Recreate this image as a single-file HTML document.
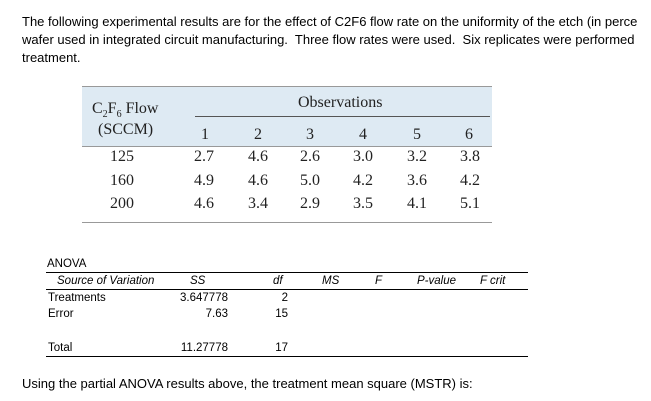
<!DOCTYPE html>
<html><head><style>
body{margin:0;width:651px;height:401px;background:#fff;position:relative;overflow:hidden;font-family:"Liberation Sans",Arial,sans-serif;color:#000}
.a{position:absolute;white-space:nowrap}
.t{font-size:13px}
.s{font-family:"Liberation Serif",serif;font-size:16px;color:#222}
.x{font-size:11.5px}
.r{text-align:right}
.c{text-align:center;width:40px;margin-left:-20px}
</style></head><body>
<div class="a t" style="left:22px;top:14px;width:629px;overflow:hidden">The following experimental results are for the effect of C2F6 flow rate on the uniformity of the etch (in perce</div>
<div class="a t" style="left:22px;top:32px;width:629px;overflow:hidden">wafer used in integrated circuit manufacturing.&nbsp; Three flow rates were used.&nbsp; Six replicates were performed</div>
<div class="a t" style="left:22px;top:50px">treatment.</div>

<div class="a" style="left:82px;top:86px;width:410px;height:59px;background:#deeaf3;border-top:1.5px solid #999;border-bottom:1.5px solid #999"></div>
<div class="a" style="left:82px;top:222px;width:410px;height:0;border-top:1.5px solid #999"></div>
<div class="a" style="left:195px;top:116px;width:295px;height:0;border-top:1px solid #555"></div>
<div class="a s" style="left:92px;top:100px">C<sub style="font-size:10px">2</sub>F<sub style="font-size:10px">6</sub> Flow</div>
<div class="a s" style="left:98px;top:121px">(SCCM)</div>
<div class="a s" style="left:298px;top:94px">Observations</div>
<div class="a s c" style="left:205px;top:126px">1</div>
<div class="a s c" style="left:258px;top:126px">2</div>
<div class="a s c" style="left:310px;top:126px">3</div>
<div class="a s c" style="left:363px;top:126px">4</div>
<div class="a s c" style="left:417px;top:126px">5</div>
<div class="a s c" style="left:469px;top:126px">6</div>

<div class="a s c" style="left:122px;top:148px">125</div>
<div class="a s c" style="left:204px;top:148px">2.7</div><div class="a s c" style="left:258px;top:148px">4.6</div><div class="a s c" style="left:310px;top:148px">2.6</div><div class="a s c" style="left:363px;top:148px">3.0</div><div class="a s c" style="left:417px;top:148px">3.2</div><div class="a s c" style="left:470px;top:148px">3.8</div>
<div class="a s c" style="left:122px;top:172px">160</div>
<div class="a s c" style="left:204px;top:172px">4.9</div><div class="a s c" style="left:258px;top:172px">4.6</div><div class="a s c" style="left:310px;top:172px">5.0</div><div class="a s c" style="left:363px;top:172px">4.2</div><div class="a s c" style="left:417px;top:172px">3.6</div><div class="a s c" style="left:470px;top:172px">4.2</div>
<div class="a s c" style="left:122px;top:195px">200</div>
<div class="a s c" style="left:204px;top:195px">4.6</div><div class="a s c" style="left:258px;top:195px">3.4</div><div class="a s c" style="left:310px;top:195px">2.9</div><div class="a s c" style="left:363px;top:195px">3.5</div><div class="a s c" style="left:417px;top:195px">4.1</div><div class="a s c" style="left:470px;top:195px">5.1</div>

<div class="a x" style="left:47px;top:258px">ANOVA</div>
<div class="a" style="left:46px;top:272px;width:482px;border-top:1px solid #000"></div>
<div class="a x" style="left:57px;top:275px;font-style:italic">Source of Variation</div>
<div class="a x" style="left:190px;top:275px;font-style:italic">SS</div>
<div class="a x" style="left:273px;top:275px;font-style:italic">df</div>
<div class="a x" style="left:322px;top:275px;font-style:italic">MS</div>
<div class="a x" style="left:375px;top:275px;font-style:italic">F</div>
<div class="a x" style="left:417px;top:275px;font-style:italic">P-value</div>
<div class="a x" style="left:480px;top:275px;font-style:italic">F crit</div>
<div class="a" style="left:46px;top:289px;width:482px;border-top:1.5px solid #000"></div>
<div class="a x" style="left:48px;top:292px">Treatments</div>
<div class="a x r" style="left:150px;top:292px;width:78px">3.647778</div>
<div class="a x r" style="left:250px;top:292px;width:38px">2</div>
<div class="a x" style="left:48px;top:308px">Error</div>
<div class="a x r" style="left:150px;top:308px;width:78px">7.63</div>
<div class="a x r" style="left:250px;top:308px;width:38px">15</div>
<div class="a x" style="left:48px;top:342px">Total</div>
<div class="a x r" style="left:150px;top:342px;width:78px">11.27778</div>
<div class="a x r" style="left:250px;top:342px;width:38px">17</div>
<div class="a" style="left:46px;top:356px;width:482px;border-top:1px solid #000"></div>
<div class="a t" style="left:22px;top:376px">Using the partial ANOVA results above, the treatment mean square (MSTR) is:</div>
</body></html>
